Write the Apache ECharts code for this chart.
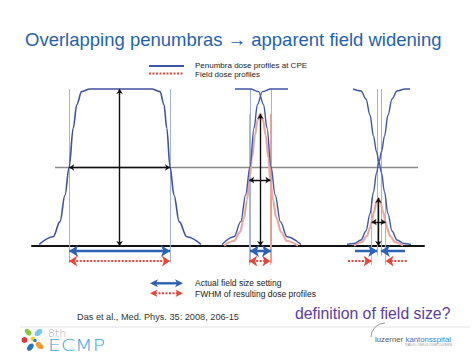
<!DOCTYPE html>
<html>
<head>
<meta charset="utf-8">
<script src="https://cdn.jsdelivr.net/npm/echarts/dist/echarts.min.js"></script>
<style>
html,body{margin:0;padding:0;background:#ffffff;}
#chart{width:474px;height:355px;}
</style>
</head>
<body>
<div id="chart"></div>
<script>
// ---------------- DATA (x = lateral position, y = relative dose) ----------------
// Wide field: penumbra dose profile at CPE (coincides with the field dose profile)
const wideFieldProfile = [[1.8,0.011],[5.3,0.059],[7.0,0.155],[8.25,0.325],[9.3,0.505],[10.3,0.75],[11.2,0.90],[12.4,0.983],[14.5,1.0],[29.9,1.0],[32.0,0.983],[33.0,0.90],[33.7,0.75],[34.5,0.505],[35.5,0.325],[36.8,0.155],[38.7,0.059],[42.25,0.011]];
// Narrow field: the two penumbras and the resulting field dose profile
const narrowRisingPenumbra  = [[47.5,0.01],[50.5,0.059],[52.2,0.155],[53.4,0.325],[54.5,0.505],[55.5,0.75],[56.35,0.90],[57.6,0.983],[59.7,1.0],[64.0,1.0]];
const narrowFallingPenumbra = [[50.75,1.0],[54.6,1.0],[56.65,0.983],[57.9,0.90],[58.75,0.75],[59.75,0.505],[60.8,0.325],[62.1,0.155],[63.75,0.059],[67.25,0.01]];
const narrowFieldDose = [[48.0,0.003],[50.5,0.032],[52.0,0.089],[53.0,0.178],[53.75,0.293],[54.3,0.414],[55.0,0.561],[55.75,0.707],[56.4,0.803],[57.1,0.841],[57.75,0.803],[58.4,0.707],[59.1,0.561],[59.6,0.414],[60.25,0.293],[61.1,0.178],[62.25,0.089],[63.75,0.032],[66.5,0.003]];
// Very small field
const tinyRisingPenumbra  = [[78.75,0.01],[80.5,0.016],[82.25,0.038],[83.5,0.096],[84.5,0.204],[85.375,0.344],[86.125,0.465],[86.75,0.535],[87.375,0.60],[88.125,0.70],[89.0,0.834],[90.0,0.936],[91.25,0.987],[93.25,1.0],[94.5,1.0]];
const tinyFallingPenumbra = [[80.25,1.0],[82.25,0.987],[83.5,0.936],[84.5,0.834],[85.375,0.70],[86.125,0.60],[86.75,0.535],[87.375,0.465],[88.125,0.344],[89.0,0.204],[90.0,0.096],[91.25,0.038],[93.0,0.016],[94.75,0.01]];
const tinyFieldDose = [[80.5,0.003],[82.5,0.025],[83.75,0.064],[84.5,0.115],[84.9,0.153],[85.5,0.217],[86.1,0.28],[86.6,0.306],[87.1,0.28],[87.75,0.217],[88.4,0.153],[88.75,0.115],[89.5,0.064],[90.75,0.025],[92.75,0.003]];

const fieldCentres = [21.9, 57.1, 86.6];
const fieldEdges   = [[9.3,34.5],[54.5,59.75],[86.3,87.2]];   // actual field size setting
const fwhmEdges    = [[9.3,34.5],[54.3,59.6],[84.9,88.4]];    // FWHM of resulting dose profiles
const peakDose     = [1.0, 0.84, 0.306];
const tinyActualArrowTails = [80.75, 93.25];
const tinyFwhmArrowTails   = [79.0, 93.7];
const referenceDose = 0.5;
const referenceSpan = [5.75, 96.5];

const titleText = 'Overlapping penumbras \u2192 apparent field widening';
const legendTop = ['Penumbra dose profiles at CPE', 'Field dose profiles'];
const legendBottom = ['Actual field size setting', 'FWHM of resulting dose profiles'];
const citation = 'Das et al., Med. Phys. 35: 2008, 206-15';
const question = 'definition of field size?';

// ---------------- LAYOUT ----------------
const Y_ACTUAL = -0.032, Y_FWHM = -0.096, EDGE_BOTTOM = -0.108, TINY_EDGE_BOTTOM = -0.06, RED_BOTTOM = -0.12;
const FONT = '"Liberation Sans", Arial, Helvetica, sans-serif';
const BLUE = '#3e56a8', PINK = '#e6aaa2', ARROW_BLUE = '#2d62b2', ARROW_RED = '#e5453b';

// build line segments from the arrays
const edgeLines = fieldEdges.map((e, i) => {
  const bottom = i === 2 ? TINY_EDGE_BOTTOM : EDGE_BOTTOM;
  return e.map(x => ({coords: [[x, 1.0], [x, bottom]]}));
}).flat();
const fwhmLines = fwhmEdges.slice(1).map((e, k) => e.map(x => ({coords: [[x, peakDose[k + 1]], [x, RED_BOTTOM]]}))).flat();
const blackArrows = [];
fieldCentres.forEach((c, i) => {
  blackArrows.push({coords: [[c, 0], [c, peakDose[i]]]});
  blackArrows.push({coords: [[fwhmEdges[i][0], peakDose[i] / 2], [fwhmEdges[i][1], peakDose[i] / 2]]});
});
const blueDouble = fieldEdges.slice(0, 2).map(e => ({coords: [[e[0], Y_ACTUAL], [e[1], Y_ACTUAL]]}));
const redDouble = fwhmEdges.slice(0, 2).map(e => ({coords: [[e[0], Y_FWHM], [e[1], Y_FWHM]]}));
const blueSingle = [
  {coords: [[tinyActualArrowTails[0], Y_ACTUAL], [fieldEdges[2][0], Y_ACTUAL]]},
  {coords: [[tinyActualArrowTails[1], Y_ACTUAL], [fieldEdges[2][1], Y_ACTUAL]]}
];
const redSingle = [
  {coords: [[tinyFwhmArrowTails[0], Y_FWHM], [fwhmEdges[2][0], Y_FWHM]]},
  {coords: [[tinyFwhmArrowTails[1], Y_FWHM], [fwhmEdges[2][1], Y_FWHM]]}
];

function curve(data, color, width, z) {
  return {type: 'line', data: data, smooth: 0.35, smoothMonotone: 'x', showSymbol: false, symbol: 'none', z: z,
    lineStyle: {color: color, width: width}, silent: true};
}
function segs(data, color, width, type, symbol, size, z) {
  return {type: 'lines', coordinateSystem: 'cartesian2d', data: data, symbol: symbol, symbolSize: size, z: z,
    lineStyle: {color: color, width: width, type: type, opacity: 1}, silent: true};
}

const chart = echarts.init(document.getElementById('chart'), null, {renderer: 'svg'});
chart.setOption({
  animation: false,
  backgroundColor: '#ffffff',
  grid: {left: 32, width: 392, top: 73.3, height: 204.1},
  xAxis: {type: 'value', min: 0, max: 98, axisLine: {show: true, onZero: true, lineStyle: {color: '#111111', width: 2}},
    axisTick: {show: false}, axisLabel: {show: false}, splitLine: {show: false}},
  yAxis: {type: 'value', min: -0.2, max: 1.1, show: false, splitLine: {show: false}},
  series: [
    {type: 'line', data: [[referenceSpan[0], referenceDose], [referenceSpan[1], referenceDose]], showSymbol: false, symbol: 'none', z: 1,
      lineStyle: {color: '#8a8a8a', width: 1.5}, silent: true},
    segs(edgeLines, '#a3b3d7', 1, 'solid', 'none', 0, 1),
    segs(fwhmLines, '#eca397', 1, 'solid', 'none', 0, 1),
    curve(narrowFieldDose, PINK, 2.2, 3),
    curve(tinyFieldDose, PINK, 2.2, 3),
    curve(wideFieldProfile, '#404f9e', 1.6, 4),
    curve(narrowRisingPenumbra, BLUE, 1.4, 4),
    curve(narrowFallingPenumbra, BLUE, 1.4, 4),
    curve(tinyRisingPenumbra, BLUE, 1.4, 4),
    curve(tinyFallingPenumbra, BLUE, 1.4, 4),
    segs(blackArrows, '#111111', 1.4, 'solid', ['arrow', 'arrow'], 5, 10),
    segs(blueDouble, ARROW_BLUE, 2.4, 'solid', ['arrow', 'arrow'], 9, 10),
    segs(blueSingle, ARROW_BLUE, 2.4, 'solid', ['none', 'arrow'], 9, 10),
    segs(redDouble, ARROW_RED, 2, [2, 1.5], ['arrow', 'arrow'], 8, 10),
    segs(redSingle, ARROW_RED, 2, [2, 1.5], ['none', 'arrow'], 8, 10)
  ],
  graphic: [
    {type: 'text', x: 25, y: 39, style: {text: titleText, fill: '#1f63ac', font: '18.5px ' + FONT, verticalAlign: 'middle'}},
    // top legend
    {type: 'line', shape: {x1: 149, y1: 66, x2: 184, y2: 66}, style: {stroke: BLUE, lineWidth: 2}},
    {type: 'line', shape: {x1: 149, y1: 73.5, x2: 184, y2: 73.5}, style: {stroke: ARROW_RED, lineWidth: 2, lineDash: [2, 1.5]}},
    {type: 'text', x: 195, y: 65.5, style: {text: legendTop[0], fill: '#222', font: '8px ' + FONT, verticalAlign: 'middle'}},
    {type: 'text', x: 195, y: 74.2, style: {text: legendTop[1], fill: '#222', font: '8px ' + FONT, verticalAlign: 'middle'}},
    // bottom legend
    {type: 'line', shape: {x1: 155, y1: 283.3, x2: 178, y2: 283.3}, style: {stroke: ARROW_BLUE, lineWidth: 2.4}},
    {type: 'polygon', shape: {points: [[150, 283.3], [158, 279.3], [156, 283.3], [158, 287.3]]}, style: {fill: ARROW_BLUE}},
    {type: 'polygon', shape: {points: [[183, 283.3], [175, 279.3], [177, 283.3], [175, 287.3]]}, style: {fill: ARROW_BLUE}},
    {type: 'line', shape: {x1: 155, y1: 293.3, x2: 178, y2: 293.3}, style: {stroke: ARROW_RED, lineWidth: 2, lineDash: [2, 1.5]}},
    {type: 'polygon', shape: {points: [[150, 293.3], [157.5, 289.5], [155.5, 293.3], [157.5, 297.1]]}, style: {fill: ARROW_RED}},
    {type: 'polygon', shape: {points: [[183, 293.3], [175.5, 289.5], [177.5, 293.3], [175.5, 297.1]]}, style: {fill: ARROW_RED}},
    {type: 'text', x: 195, y: 283.3, style: {text: legendBottom[0], fill: '#222', font: '8.5px ' + FONT, verticalAlign: 'middle'}},
    {type: 'text', x: 195, y: 294, style: {text: legendBottom[1], fill: '#222', font: '8.5px ' + FONT, verticalAlign: 'middle'}},
    // citation and question
    {type: 'text', x: 77, y: 316.7, style: {text: citation, fill: '#333', font: '9.2px ' + FONT, verticalAlign: 'middle'}},
    {type: 'text', x: 295, y: 313, style: {text: question, fill: '#5c3c9b', font: '15.8px ' + FONT, verticalAlign: 'middle'}},
    {type: 'line', shape: {x1: 20, y1: 327, x2: 470, y2: 327}, style: {stroke: '#e3e3e3', lineWidth: 1}},
    // 8th ECMP logo
    {type: 'ellipse', shape: {cx: 28, cy: 332, rx: 4, ry: 2.6}, rotation: -0.8, originX: 28, originY: 332, style: {fill: '#8dc63f'}},
    {type: 'ellipse', shape: {cx: 38.5, cy: 332.5, rx: 4.5, ry: 2.8}, rotation: 0.7, originX: 38.5, originY: 332.5, style: {fill: '#7cc8ea'}},
    {type: 'circle', shape: {cx: 24.5, cy: 340, r: 3}, style: {fill: '#e2343c'}},
    {type: 'ellipse', shape: {cx: 30.5, cy: 347, rx: 4.2, ry: 2.7}, rotation: 0.9, originX: 30.5, originY: 347, style: {fill: '#2a72bb'}},
    {type: 'ellipse', shape: {cx: 39.5, cy: 345.5, rx: 4.5, ry: 2.8}, rotation: -0.7, originX: 39.5, originY: 345.5, style: {fill: '#f29a33'}},
    {type: 'circle', shape: {cx: 33, cy: 339, r: 2.4}, style: {fill: '#f3d21a'}},
    {type: 'circle', shape: {cx: 35, cy: 340.5, r: 1.8}, style: {fill: '#1e8ccc'}},
    {type: 'text', x: 48, y: 333.5, style: {text: '8th', fill: '#a9a9a9', font: '200 11px "DejaVu Sans", sans-serif', verticalAlign: 'middle'}},
    {type: 'text', x: 48, y: 345.5, scaleX: 1.36, style: {text: 'ECMP', fill: '#3aa6dc', font: '200 15px "DejaVu Sans", sans-serif', verticalAlign: 'middle'}},
    // luzerner kantonsspital logo
    {type: 'arc', shape: {cx: 385, cy: 337, r: 14, startAngle: Math.PI, endAngle: Math.PI * 1.5}, style: {stroke: '#9a9a9a', fill: null, lineWidth: 1}},
    {type: 'text', x: 375, y: 339.5, style: {text: 'luzerner', fill: '#555555', font: '7.8px ' + FONT, verticalAlign: 'middle'}},
    {type: 'text', x: 405.5, y: 339.5, style: {text: 'kantonsspital', fill: '#3b7dc4', font: '7.8px ' + FONT, verticalAlign: 'middle'}},
    {type: 'text', x: 452, y: 345.3, style: {text: 'RADIO-ONKOLOGIE LUZERN', fill: '#9a9a9a', font: '3.4px ' + FONT, align: 'right', verticalAlign: 'middle'}}
  ]
});
</script>
</body>
</html>
